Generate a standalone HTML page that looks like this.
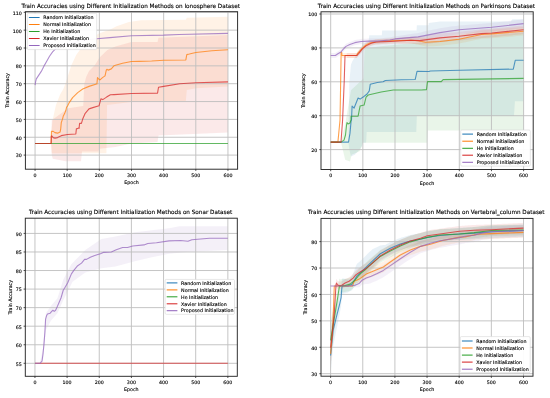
<!DOCTYPE html>
<html><head><meta charset="utf-8"><title>Train Accuracies</title>
<style>html,body{margin:0;padding:0;background:#fff;}svg{display:block;}</style>
</head><body>
<svg width="550" height="398" viewBox="0 0 550 398" font-family="DejaVu Sans, sans-serif" text-rendering="geometricPrecision">
<rect width="550" height="398" fill="#fff"/>
<clipPath id="ctl"><rect x="25.4" y="11.7" width="212.2" height="157.5"/></clipPath>
<g clip-path="url(#ctl)">
<polygon fill="#ff7f0e" fill-opacity="0.1" points="35.05,143.5 51.12,143.5 51.45,130.11 52.73,119.4 55.95,105.12 60.13,94.41 63.34,89.05 65.27,84.06 68.49,73.88 71.38,65.14 76.2,54.96 83.28,45.32 91.31,38.18 99.35,33.18 110.28,29.61 116.58,26.22 128.93,21.94 141.14,20.33 185.83,19.8 186.8,17.66 227.95,16.76 227.95,86.38 195.8,88.16 186.8,89.95 185.83,101.01 131.5,102.09 107.07,105.12 106.42,153.31 51.77,153.31 51.12,143.5 35.05,143.5"/>
<polygon fill="#d62728" fill-opacity="0.1" points="35.05,143.5 51.12,143.5 51.77,120.29 68.16,108.33 83.28,106.01 84.24,84.06 86.17,76.92 89.06,71.03 95.01,64.96 99.35,57.82 107.39,49.96 115.42,46.39 131.5,41.93 157.54,41.93 158.51,37.65 227.95,34.97 227.95,132.43 158.51,135.47 157.54,142.07 131.5,143.5 115.42,147.07 99.35,148.85 98.39,151.53 81.99,151.53 81.02,161.35 65.59,161.35 52.73,158.67 51.77,155.1 51.12,143.5 35.05,143.5"/>
</g>
<g stroke="#bebebe" stroke-width="0.9"><line x1="35.05" y1="11.7" x2="35.05" y2="169.2"/><line x1="67.2" y1="11.7" x2="67.2" y2="169.2"/><line x1="99.35" y1="11.7" x2="99.35" y2="169.2"/><line x1="131.5" y1="11.7" x2="131.5" y2="169.2"/><line x1="163.65" y1="11.7" x2="163.65" y2="169.2"/><line x1="195.8" y1="11.7" x2="195.8" y2="169.2"/><line x1="227.95" y1="11.7" x2="227.95" y2="169.2"/><line x1="25.4" y1="155.1" x2="237.6" y2="155.1"/><line x1="25.4" y1="137.25" x2="237.6" y2="137.25"/><line x1="25.4" y1="119.4" x2="237.6" y2="119.4"/><line x1="25.4" y1="101.55" x2="237.6" y2="101.55"/><line x1="25.4" y1="83.7" x2="237.6" y2="83.7"/><line x1="25.4" y1="65.85" x2="237.6" y2="65.85"/><line x1="25.4" y1="48" x2="237.6" y2="48"/><line x1="25.4" y1="30.15" x2="237.6" y2="30.15"/><line x1="25.4" y1="12.3" x2="237.6" y2="12.3"/></g>
<g clip-path="url(#ctl)">
<polyline fill="none" stroke="#ff7f0e" stroke-width="1.1" stroke-opacity="0.74" stroke-linejoin="round" points="35.05,143.5 51.12,143.5 51.45,131.36 53.21,131.36 54.98,132.61 57.55,133.14 60.13,131.9 60.71,128.86 61.28,122.61 62.57,118.86 63.21,116.37 64.47,113.87 65.72,110.83 66.56,107.26 67.62,105.83 68.9,103.16 72.6,97.62 77.71,92.62 82.7,89.05 89,86.38 96.46,84.06 96.91,84.06 97.49,77.63 98.8,79.06 99.99,79.95 102.5,77.63 105.04,75.85 106.29,70.13 106.91,69.24 108.19,70.13 111.31,68.88 113.91,65.85 116.39,64.96 122.59,63.17 131.4,61.57 138.99,61.39 151.59,61.03 163.97,60.32 185.83,59.96 186.8,54.6 189.37,54.07 195.8,52.46 211.88,50.68 227.95,49.78"/>
<polyline fill="none" stroke="#2ca02c" stroke-width="1.1" stroke-opacity="0.74" stroke-linejoin="round" points="35.05,143.5 227.95,143.5"/>
<polyline fill="none" stroke="#d62728" stroke-width="1.1" stroke-opacity="0.74" stroke-linejoin="round" points="35.05,143.5 51.12,143.5 51.29,136.18 51.77,135.82 53.21,137.61 54.98,138.14 57.55,137.61 61.28,135.64 67.52,134.57 75.82,134.04 76.39,128.86 78.29,128.15 79.1,128.32 79.58,123.33 81.41,123.33 82.7,119.04 85.2,113.33 89,108.87 92.79,107.62 99.03,105.83 100.89,98.87 102.79,99.59 106.58,97.09 110.41,94.77 114.01,94.59 131.5,93.52 157.54,93.16 158.51,87.27 163.65,86.38 179.73,83.7 195.8,82.81 227.95,81.91"/>
<polyline fill="none" stroke="#9467bd" stroke-width="1.1" stroke-opacity="0.74" stroke-linejoin="round" points="35.05,85.13 35.69,81.38 36.34,78.88 38.81,75.13 41.29,71.38 43.79,66.39 47.01,60.67 49.52,56.21 52.6,51.93 55.79,48.71 60.77,46.57 67.2,44.43 76.84,41.75 86.49,39.97 96.78,38.72 109.96,37.65 131.5,35.68 163.65,35.15 179.08,34.43 227.95,33.36"/>
</g>
<rect x="25.4" y="11.7" width="212.2" height="157.5" fill="none" stroke="#262626" stroke-width="0.95"/>
<g stroke="#262626" stroke-width="0.8"><line x1="35.05" y1="169.2" x2="35.05" y2="170.9"/><line x1="67.2" y1="169.2" x2="67.2" y2="170.9"/><line x1="99.35" y1="169.2" x2="99.35" y2="170.9"/><line x1="131.5" y1="169.2" x2="131.5" y2="170.9"/><line x1="163.65" y1="169.2" x2="163.65" y2="170.9"/><line x1="195.8" y1="169.2" x2="195.8" y2="170.9"/><line x1="227.95" y1="169.2" x2="227.95" y2="170.9"/><line x1="23.7" y1="155.1" x2="25.4" y2="155.1"/><line x1="23.7" y1="137.25" x2="25.4" y2="137.25"/><line x1="23.7" y1="119.4" x2="25.4" y2="119.4"/><line x1="23.7" y1="101.55" x2="25.4" y2="101.55"/><line x1="23.7" y1="83.7" x2="25.4" y2="83.7"/><line x1="23.7" y1="65.85" x2="25.4" y2="65.85"/><line x1="23.7" y1="48" x2="25.4" y2="48"/><line x1="23.7" y1="30.15" x2="25.4" y2="30.15"/><line x1="23.7" y1="12.3" x2="25.4" y2="12.3"/></g>
<g font-size="4.75" fill="#000" stroke="#000" stroke-width="0.13"><text x="35.05" y="177.1" text-anchor="middle">0</text><text x="67.2" y="177.1" text-anchor="middle">100</text><text x="99.35" y="177.1" text-anchor="middle">200</text><text x="131.5" y="177.1" text-anchor="middle">300</text><text x="163.65" y="177.1" text-anchor="middle">400</text><text x="195.8" y="177.1" text-anchor="middle">500</text><text x="227.95" y="177.1" text-anchor="middle">600</text><text x="21.8" y="157.45" text-anchor="end">30</text><text x="21.8" y="139.6" text-anchor="end">40</text><text x="21.8" y="121.75" text-anchor="end">50</text><text x="21.8" y="103.9" text-anchor="end">60</text><text x="21.8" y="86.05" text-anchor="end">70</text><text x="21.8" y="68.2" text-anchor="end">80</text><text x="21.8" y="50.35" text-anchor="end">90</text><text x="21.8" y="32.5" text-anchor="end">100</text><text x="21.8" y="14.65" text-anchor="end">110</text><text x="131.5" y="184.3" text-anchor="middle">Epoch</text><text transform="translate(8.9,90.45) rotate(-90)" text-anchor="middle">Train Accuracy</text></g>
<text x="130.8" y="7.7" text-anchor="middle" font-size="5.68" stroke="#000" stroke-width="0.13">Train Accuracies using Different Initialization Methods on Ionosphere Dataset</text>
<rect x="27.3" y="13.3" width="69.4" height="36.3" rx="1.2" fill="#fff" fill-opacity="0.95" stroke="#d6d6d6" stroke-width="0.6"/>
<g font-size="4.75" stroke-width="0.13"><line x1="28.9" y1="17.5" x2="39.6" y2="17.5" stroke="#1f77b4" stroke-width="1.05" stroke-opacity="1"/><text x="43.3" y="19.25" stroke="#000">Random Initialization</text><line x1="28.9" y1="24.5" x2="39.6" y2="24.5" stroke="#ff7f0e" stroke-width="1.05" stroke-opacity="1"/><text x="43.3" y="26.25" stroke="#000">Normal Initialization</text><line x1="28.9" y1="31.5" x2="39.6" y2="31.5" stroke="#2ca02c" stroke-width="1.05" stroke-opacity="1"/><text x="43.3" y="33.25" stroke="#000">He Initialization</text><line x1="28.9" y1="38.5" x2="39.6" y2="38.5" stroke="#d62728" stroke-width="1.05" stroke-opacity="1"/><text x="43.3" y="40.25" stroke="#000">Xavier Initialization</text><line x1="28.9" y1="45.5" x2="39.6" y2="45.5" stroke="#9467bd" stroke-width="1.05" stroke-opacity="1"/><text x="43.3" y="47.25" stroke="#000">Proposed Initialization</text></g>
<clipPath id="ctr"><rect x="321" y="11.8" width="212.2" height="157.7"/></clipPath>
<g clip-path="url(#ctr)">
<polygon fill="#1f77b4" fill-opacity="0.1" points="330.7,142.14 348.38,142.14 349.35,81.8 350.95,64.85 352.24,61.46 357.38,52.98 363.17,43.83 368.64,41.12 369.28,35.36 381.82,35.36 382.14,30.61 416.54,30.61 416.86,25.19 428.44,25.19 428.76,22.98 440.01,21.46 510.74,21.46 512.35,19.25 523.6,19.25 523.6,101.29 514.92,101.29 513.95,116.04 416.86,116.04 416.22,131.97 366.71,131.97 366.06,142.82 362.85,142.82 361.89,146.21 359.63,149.6 354.81,154.69 350.95,156.38 349.35,149.6 348.38,142.14 330.7,142.14"/>
<polygon fill="#ff7f0e" fill-opacity="0.1" points="341.95,52.98 343.56,52.98 346.77,52.98 349.99,52.98 353.2,52.98 356.42,52.98 356.74,52.98 357.29,51.29 359.63,48.54 359.89,48.24 362.4,45.7 362.85,45.3 366.06,42.48 369.28,40.78 369.92,40.44 372.5,39.92 374.91,39.42 375.71,39.36 378.93,39.11 382.14,38.85 385.36,38.6 388.57,38.34 389.86,38.24 391.78,38.19 395,38.12 398.21,37.86 401.43,37.61 404.64,37.35 407.86,37.1 411.07,36.84 414.29,36.89 417.5,36.95 418.15,36.96 420.72,37.35 423.94,37.83 425.54,38.07 427.15,37.89 430.37,37.7 433.58,37.51 436.79,37.33 440.01,37.14 443.23,36.76 446.44,36.39 449.65,36.02 452.87,35.64 456.08,35.27 458.98,34.93 459.3,34.87 462.51,34.19 465.73,33.51 468.94,32.83 472.16,32.15 475.38,31.48 478.59,30.8 481.48,30.19 481.8,30.17 485.02,29.95 488.24,29.74 491.45,29.53 491.77,29.51 494.66,29.28 497.88,29.02 501.1,28.76 504.31,28.51 507.52,28.25 510.74,27.99 513.95,27.74 517.17,27.48 520.38,27.22 523.6,26.97 523.6,35.61 520.38,35.87 517.17,36.12 513.95,36.38 510.74,36.64 507.52,36.9 504.31,37.15 501.1,37.41 497.88,37.67 494.66,37.92 491.77,38.15 491.45,38.17 488.24,38.39 485.02,38.6 481.8,38.81 481.48,38.83 478.59,39.44 475.38,40.12 472.16,40.8 468.94,41.48 465.73,42.15 462.51,42.83 459.3,43.51 458.98,43.58 456.08,43.91 452.87,44.29 449.65,44.66 446.44,45.03 443.23,45.41 440.01,45.78 436.79,45.97 433.58,46.16 430.37,46.35 427.15,46.53 425.54,46.54 423.94,46.12 420.72,45.28 418.15,44.6 417.5,44.52 414.29,44.11 411.07,43.7 407.86,43.6 404.64,43.5 401.43,43.4 398.21,43.3 395,43.2 391.78,43.28 389.86,43.32 388.57,43.43 385.36,43.68 382.14,43.94 378.93,44.19 375.71,44.45 374.91,44.51 372.5,45 369.92,45.53 369.28,45.87 366.06,47.56 362.85,50.39 362.4,50.78 359.89,53.32 359.63,53.63 357.29,56.38 356.74,58.07 356.42,58.07 353.2,58.07 349.99,58.07 346.77,58.07 343.56,58.07 341.95,58.07"/>
<polygon fill="#2ca02c" fill-opacity="0.1" points="330.7,142.14 340.99,142.14 345.17,124.18 350.95,90.28 363.49,78.41 364.46,49.59 367.03,48.24 381.18,46.2 401.43,44.17 419.76,42.81 459.3,38.41 523.6,32.14 523.6,130.45 427.79,130.45 427.15,142.65 362.85,142.65 361.89,146.21 359.63,151.3 351.6,154.69 349.99,161.47 345.17,159.77 343.56,152.99 340.99,142.14 330.7,142.14"/>
<polygon fill="#d62728" fill-opacity="0.1" points="346.77,52.98 349.99,52.98 353.2,52.98 356.42,52.98 356.74,52.98 358.61,51.12 359.63,49.83 362.4,46.37 362.85,46 366.06,43.32 369.28,41.73 371.21,40.78 372.5,40.42 375.71,39.52 376.03,39.42 378.93,39.32 382.14,39.2 385.36,39.08 388.57,38.96 389.86,38.92 391.78,38.81 395,38.63 398.21,38.27 401.43,37.91 404.64,37.56 407.86,37.2 411.07,36.84 414.29,36.79 417.5,36.74 419.76,36.7 420.72,36.52 423.94,35.91 427.15,35.3 430.37,34.87 433.58,34.44 436.79,34.01 440.01,33.58 443.23,33.29 446.44,33 449.65,32.72 452.87,32.43 456.08,32.14 458.98,31.88 459.3,31.85 462.51,31.48 465.73,31.12 468.94,30.76 472.16,30.39 475.38,30.03 478.59,29.67 481.48,29.34 481.8,29.32 485.02,29.11 488.24,28.89 491.45,28.68 491.77,28.66 494.66,28.37 497.88,28.04 501.1,27.72 504.31,27.39 507.52,27.07 510.74,26.74 513.95,26.42 517.17,26.09 520.38,25.77 523.6,25.44 523.6,34.09 520.38,34.41 517.17,34.74 513.95,35.06 510.74,35.39 507.52,35.71 504.31,36.04 501.1,36.36 497.88,36.69 494.66,37.01 491.77,37.31 491.45,37.33 488.24,37.54 485.02,37.75 481.8,37.96 481.48,37.98 478.59,38.31 475.38,38.67 472.16,39.04 468.94,39.4 465.73,39.76 462.51,40.13 459.3,40.49 458.98,40.53 456.08,40.79 452.87,41.07 449.65,41.36 446.44,41.65 443.23,41.93 440.01,42.22 436.79,42.65 433.58,43.08 430.37,43.51 427.15,43.94 423.94,44.2 420.72,44.45 419.76,44.52 417.5,44.31 414.29,44.01 411.07,43.7 407.86,43.71 404.64,43.71 401.43,43.71 398.21,43.71 395,43.71 391.78,43.89 389.86,44 388.57,44.05 385.36,44.17 382.14,44.29 378.93,44.4 376.03,44.51 375.71,44.6 372.5,45.5 371.21,45.87 369.28,46.82 366.06,48.41 362.85,51.08 362.4,51.46 359.63,54.92 358.61,56.21 356.74,58.07 356.42,58.07 353.2,58.07 349.99,58.07 346.77,58.07"/>
<polygon fill="#9467bd" fill-opacity="0.1" points="330.7,52.98 333.91,52.98 335.39,52.98 337.13,51.81 337.9,51.29 340.34,49.81 340.99,49.43 343.56,46.35 344.11,45.7 346,43.83 346.77,43.45 349.8,41.97 349.99,41.9 353.2,40.7 354.81,40.1 356.42,39.8 359.63,39.19 361.11,38.92 362.85,38.84 366.06,38.69 368.64,38.58 369.28,38.58 372.5,38.58 375.71,38.58 377.51,38.58 378.93,38.44 382.14,38.13 385.36,37.82 388.57,37.51 389.86,37.39 391.78,37.01 395,36.37 398.21,35.91 401.43,35.45 404.64,34.99 407.86,34.53 411.07,34.07 414.29,33.61 417.5,33.15 418.15,33.06 420.72,32.42 423.94,31.62 427.15,30.82 430.37,30.19 433.58,29.57 436.79,28.95 440.01,28.32 443.23,27.83 446.44,27.35 449.65,26.86 452.87,26.37 456.08,25.88 458.98,25.44 459.3,25.42 462.51,25.17 465.73,24.92 468.94,24.67 472.16,24.42 475.38,24.17 478.59,23.92 481.8,23.67 485.02,23.42 488.24,23.17 491.45,22.92 491.77,22.9 494.66,22.58 497.88,22.22 501.1,21.86 504.31,21.5 507.52,21.14 510.74,20.78 513.95,20.42 517.17,20.06 520.38,19.7 523.6,19.34 523.6,27.98 520.38,28.34 517.17,28.7 513.95,29.06 510.74,29.42 507.52,29.78 504.31,30.14 501.1,30.5 497.88,30.86 494.66,31.22 491.77,31.54 491.45,31.57 488.24,31.82 485.02,32.07 481.8,32.32 478.59,32.57 475.38,32.81 472.16,33.06 468.94,33.31 465.73,33.56 462.51,33.81 459.3,34.06 458.98,34.09 456.08,34.53 452.87,35.01 449.65,35.5 446.44,35.99 443.23,36.48 440.01,36.97 436.79,37.59 433.58,38.21 430.37,38.84 427.15,39.46 423.94,39.91 420.72,40.35 418.15,40.71 417.5,40.73 414.29,40.83 411.07,40.94 407.86,41.04 404.64,41.15 401.43,41.25 398.21,41.35 395,41.46 391.78,42.09 389.86,42.48 388.57,42.6 385.36,42.91 382.14,43.22 378.93,43.53 377.51,43.66 375.71,43.66 372.5,43.66 369.28,43.66 368.64,43.66 366.06,43.78 362.85,43.92 361.11,44 359.63,44.28 356.42,44.89 354.81,45.19 353.2,45.79 349.99,46.98 349.8,47.05 346.77,48.54 346,48.92 344.11,50.78 343.56,51.44 340.99,54.51 340.34,54.9 337.9,56.38 337.13,56.9 335.39,58.07 333.91,58.07 330.7,58.07"/>
</g>
<g stroke="#bebebe" stroke-width="0.9"><line x1="330.7" y1="11.8" x2="330.7" y2="169.5"/><line x1="362.85" y1="11.8" x2="362.85" y2="169.5"/><line x1="395" y1="11.8" x2="395" y2="169.5"/><line x1="427.15" y1="11.8" x2="427.15" y2="169.5"/><line x1="459.3" y1="11.8" x2="459.3" y2="169.5"/><line x1="491.45" y1="11.8" x2="491.45" y2="169.5"/><line x1="523.6" y1="11.8" x2="523.6" y2="169.5"/><line x1="321" y1="149.6" x2="533.2" y2="149.6"/><line x1="321" y1="115.7" x2="533.2" y2="115.7"/><line x1="321" y1="81.8" x2="533.2" y2="81.8"/><line x1="321" y1="47.9" x2="533.2" y2="47.9"/><line x1="321" y1="14" x2="533.2" y2="14"/></g>
<g clip-path="url(#ctr)">
<polyline fill="none" stroke="#1f77b4" stroke-width="1.1" stroke-opacity="0.74" stroke-linejoin="round" points="330.7,142.14 348.51,142.14 349.99,133.16 351.08,121.12 351.5,119.94 352.08,106.04 354.11,108.07 358.09,98.07 360.09,99.09 363.11,97.06 367.03,94 369.28,90.95 370.24,84.34 377.32,82.48 383.1,81.8 385.36,80.44 401.43,79.77 415.25,79.43 417.02,71.29 429.08,71.46 430.37,70.95 459.94,70.27 513.31,69.09 515.24,60.27 523.6,60.27"/>
<polyline fill="none" stroke="#ff7f0e" stroke-width="1.1" stroke-opacity="0.74" stroke-linejoin="round" points="330.7,142.14 337.9,142.14 340.02,119.94 340.67,81.8 341.15,52.31 341.63,52.31 341.95,55.53 356.74,55.53 357.29,53.83 359.89,50.78 362.4,48.24 366.06,45.02 369.92,42.98 374.91,41.97 389.86,40.78 411.07,40.27 418.15,40.78 425.54,42.31 440.01,41.46 458.98,39.26 481.48,34.51 491.77,33.83 523.6,31.29"/>
<polyline fill="none" stroke="#2ca02c" stroke-width="1.1" stroke-opacity="0.74" stroke-linejoin="round" points="330.7,142.14 340.99,142.14 344.01,140.11 345.49,135.02 346.55,125.02 347,122.48 348,124.01 349.99,122.99 350.99,119.94 351.08,116.21 358.09,116.21 360.09,106.04 364.1,105.02 366.06,97.06 368.19,95.02 381.18,91.97 393.3,89.94 421.36,89.94 426.51,89.6 427.47,81.63 441.3,81.63 443.1,79.6 523.6,78.41"/>
<polyline fill="none" stroke="#d62728" stroke-width="1.1" stroke-opacity="0.74" stroke-linejoin="round" points="330.7,142.14 340.99,142.14 342.6,119.94 344.2,81.8 345.01,55.53 356.74,55.53 358.61,53.66 362.4,48.92 366.06,45.87 371.21,43.32 376.03,41.97 389.86,41.46 411.07,40.27 419.76,40.61 440.01,37.9 458.98,36.2 481.48,33.66 491.77,32.98 523.6,29.76"/>
<polyline fill="none" stroke="#9467bd" stroke-width="1.1" stroke-opacity="0.74" stroke-linejoin="round" points="330.7,55.53 335.39,55.53 337.9,53.83 340.99,51.97 344.11,48.24 346,46.37 349.8,44.51 354.81,42.65 361.11,41.46 368.64,41.12 377.51,41.12 389.86,39.93 395,38.92 418.15,36.88 440.01,32.64 458.98,29.76 491.77,27.22 523.6,23.66"/>
</g>
<rect x="321" y="11.8" width="212.2" height="157.7" fill="none" stroke="#262626" stroke-width="0.95"/>
<g stroke="#262626" stroke-width="0.8"><line x1="330.7" y1="169.5" x2="330.7" y2="171.2"/><line x1="362.85" y1="169.5" x2="362.85" y2="171.2"/><line x1="395" y1="169.5" x2="395" y2="171.2"/><line x1="427.15" y1="169.5" x2="427.15" y2="171.2"/><line x1="459.3" y1="169.5" x2="459.3" y2="171.2"/><line x1="491.45" y1="169.5" x2="491.45" y2="171.2"/><line x1="523.6" y1="169.5" x2="523.6" y2="171.2"/><line x1="319.3" y1="149.6" x2="321" y2="149.6"/><line x1="319.3" y1="115.7" x2="321" y2="115.7"/><line x1="319.3" y1="81.8" x2="321" y2="81.8"/><line x1="319.3" y1="47.9" x2="321" y2="47.9"/><line x1="319.3" y1="14" x2="321" y2="14"/></g>
<g font-size="4.75" fill="#000" stroke="#000" stroke-width="0.13"><text x="330.7" y="177.4" text-anchor="middle">0</text><text x="362.85" y="177.4" text-anchor="middle">100</text><text x="395" y="177.4" text-anchor="middle">200</text><text x="427.15" y="177.4" text-anchor="middle">300</text><text x="459.3" y="177.4" text-anchor="middle">400</text><text x="491.45" y="177.4" text-anchor="middle">500</text><text x="523.6" y="177.4" text-anchor="middle">600</text><text x="317.4" y="151.95" text-anchor="end">20</text><text x="317.4" y="118.05" text-anchor="end">40</text><text x="317.4" y="84.15" text-anchor="end">60</text><text x="317.4" y="50.25" text-anchor="end">80</text><text x="317.4" y="16.35" text-anchor="end">100</text><text x="427.1" y="184.6" text-anchor="middle">Epoch</text><text transform="translate(305.1,90.65) rotate(-90)" text-anchor="middle">Train Accuracy</text></g>
<text x="426.4" y="7.8" text-anchor="middle" font-size="5.68" stroke="#000" stroke-width="0.13">Train Accuracies using Different Initialization Methods on Parkinsons Dataset</text>
<rect x="460.7" y="130" width="69.6" height="36.1" rx="1.2" fill="#fff" fill-opacity="0.95" stroke="#d6d6d6" stroke-width="0.6"/>
<g font-size="4.75" stroke-width="0.13"><line x1="462.3" y1="134.1" x2="473" y2="134.1" stroke="#1f77b4" stroke-width="1.05" stroke-opacity="1"/><text x="476.7" y="135.85" stroke="#000">Random Initialization</text><line x1="462.3" y1="141.2" x2="473" y2="141.2" stroke="#ff7f0e" stroke-width="1.05" stroke-opacity="1"/><text x="476.7" y="142.95" stroke="#000">Normal Initialization</text><line x1="462.3" y1="148.3" x2="473" y2="148.3" stroke="#2ca02c" stroke-width="1.05" stroke-opacity="1"/><text x="476.7" y="150.05" stroke="#000">He Initialization</text><line x1="462.3" y1="155.2" x2="473" y2="155.2" stroke="#d62728" stroke-width="1.05" stroke-opacity="1"/><text x="476.7" y="156.95" stroke="#000">Xavier Initialization</text><line x1="462.3" y1="162.3" x2="473" y2="162.3" stroke="#9467bd" stroke-width="1.05" stroke-opacity="1"/><text x="476.7" y="164.05" stroke="#000">Proposed Initialization</text></g>
<clipPath id="cbl"><rect x="25.3" y="218.2" width="212" height="158.1"/></clipPath>
<g clip-path="url(#cbl)">
<polygon fill="#9467bd" fill-opacity="0.1" points="34.95,363.3 39.77,363.3 42.99,348.46 45.88,313.2 51.03,305.78 57.45,298.36 63.24,279.8 71.28,264.22 85.3,250.11 101.4,238.98 115.49,236.38 134.94,232.3 169.02,228.22 179.62,226.36 227.85,226.36 227.85,250.11 186.06,251.97 169.02,253.83 150.69,257.54 134.94,261.25 115.49,266.44 101.4,268.3 85.3,272.38 72.57,281.66 63.24,300.21 57.45,313.2 51.03,320.62 45.88,329.9 42.99,359.59 39.77,363.3 34.95,363.3"/>
</g>
<g stroke="#bebebe" stroke-width="0.9"><line x1="34.95" y1="218.2" x2="34.95" y2="376.3"/><line x1="67.1" y1="218.2" x2="67.1" y2="376.3"/><line x1="99.25" y1="218.2" x2="99.25" y2="376.3"/><line x1="131.4" y1="218.2" x2="131.4" y2="376.3"/><line x1="163.55" y1="218.2" x2="163.55" y2="376.3"/><line x1="195.7" y1="218.2" x2="195.7" y2="376.3"/><line x1="227.85" y1="218.2" x2="227.85" y2="376.3"/><line x1="25.3" y1="363.3" x2="237.3" y2="363.3"/><line x1="25.3" y1="344.75" x2="237.3" y2="344.75"/><line x1="25.3" y1="326.19" x2="237.3" y2="326.19"/><line x1="25.3" y1="307.63" x2="237.3" y2="307.63"/><line x1="25.3" y1="289.08" x2="237.3" y2="289.08"/><line x1="25.3" y1="270.53" x2="237.3" y2="270.53"/><line x1="25.3" y1="251.97" x2="237.3" y2="251.97"/><line x1="25.3" y1="233.42" x2="237.3" y2="233.42"/></g>
<g clip-path="url(#cbl)">
<polyline fill="none" stroke="#d62728" stroke-width="1.1" stroke-opacity="0.74" stroke-linejoin="round" points="34.95,363.3 227.85,363.3"/>
<polyline fill="none" stroke="#9467bd" stroke-width="1.1" stroke-opacity="0.74" stroke-linejoin="round" points="34.95,363.3 39.77,363.3 40.42,362.93 42.02,361.07 42.99,354.02 43.95,344.37 44.92,331.76 45.59,319.14 46.52,315.8 47.49,313.94 50.19,313.2 51.67,311.35 52.89,310.23 54.24,311.35 55.59,310.23 57.49,306.15 59.06,302.44 60.99,297.99 63.31,290.01 64.53,288.34 67.71,282.77 71.41,273.86 74.01,270.15 77.71,265.7 81.5,263.1 84.59,259.39 86.49,259.39 90.31,257.17 94.11,255.68 97.8,254.57 100.41,253.83 103.75,252.34 111.31,251.97 116.29,249.74 122.59,247.52 127.54,247.52 132.69,246.03 143.94,244.92 147.8,243.43 156.48,242.69 169.02,240.84 180.59,240.47 187.98,241.21 191.84,239.72 209.52,238.24 227.85,238.24"/>
</g>
<rect x="25.3" y="218.2" width="212" height="158.1" fill="none" stroke="#262626" stroke-width="0.95"/>
<g stroke="#262626" stroke-width="0.8"><line x1="34.95" y1="376.3" x2="34.95" y2="378"/><line x1="67.1" y1="376.3" x2="67.1" y2="378"/><line x1="99.25" y1="376.3" x2="99.25" y2="378"/><line x1="131.4" y1="376.3" x2="131.4" y2="378"/><line x1="163.55" y1="376.3" x2="163.55" y2="378"/><line x1="195.7" y1="376.3" x2="195.7" y2="378"/><line x1="227.85" y1="376.3" x2="227.85" y2="378"/><line x1="23.6" y1="363.3" x2="25.3" y2="363.3"/><line x1="23.6" y1="344.75" x2="25.3" y2="344.75"/><line x1="23.6" y1="326.19" x2="25.3" y2="326.19"/><line x1="23.6" y1="307.63" x2="25.3" y2="307.63"/><line x1="23.6" y1="289.08" x2="25.3" y2="289.08"/><line x1="23.6" y1="270.53" x2="25.3" y2="270.53"/><line x1="23.6" y1="251.97" x2="25.3" y2="251.97"/><line x1="23.6" y1="233.42" x2="25.3" y2="233.42"/></g>
<g font-size="4.75" fill="#000" stroke="#000" stroke-width="0.13"><text x="34.95" y="384.2" text-anchor="middle">0</text><text x="67.1" y="384.2" text-anchor="middle">100</text><text x="99.25" y="384.2" text-anchor="middle">200</text><text x="131.4" y="384.2" text-anchor="middle">300</text><text x="163.55" y="384.2" text-anchor="middle">400</text><text x="195.7" y="384.2" text-anchor="middle">500</text><text x="227.85" y="384.2" text-anchor="middle">600</text><text x="21.7" y="365.65" text-anchor="end">55</text><text x="21.7" y="347.1" text-anchor="end">60</text><text x="21.7" y="328.54" text-anchor="end">65</text><text x="21.7" y="309.99" text-anchor="end">70</text><text x="21.7" y="291.43" text-anchor="end">75</text><text x="21.7" y="272.88" text-anchor="end">80</text><text x="21.7" y="254.32" text-anchor="end">85</text><text x="21.7" y="235.77" text-anchor="end">90</text><text x="131.3" y="391.4" text-anchor="middle">Epoch</text><text transform="translate(11.7,297.25) rotate(-90)" text-anchor="middle">Train Accuracy</text></g>
<text x="130.6" y="214.2" text-anchor="middle" font-size="5.68" stroke="#000" stroke-width="0.13">Train Accuracies using Different Initialization Methods on Sonar Dataset</text>
<rect x="165.1" y="279.4" width="69.4" height="34.9" rx="1.2" fill="#fff" fill-opacity="0.95" stroke="#d6d6d6" stroke-width="0.6"/>
<g font-size="4.75" stroke-width="0.13"><line x1="166.7" y1="282.9" x2="177.4" y2="282.9" stroke="#1f77b4" stroke-width="1.05" stroke-opacity="1"/><text x="181.1" y="284.65" stroke="#000">Random Initialization</text><line x1="166.7" y1="289.9" x2="177.4" y2="289.9" stroke="#ff7f0e" stroke-width="1.05" stroke-opacity="1"/><text x="181.1" y="291.65" stroke="#000">Normal Initialization</text><line x1="166.7" y1="296.8" x2="177.4" y2="296.8" stroke="#2ca02c" stroke-width="1.05" stroke-opacity="1"/><text x="181.1" y="298.55" stroke="#000">He Initialization</text><line x1="166.7" y1="303.8" x2="177.4" y2="303.8" stroke="#d62728" stroke-width="1.05" stroke-opacity="1"/><text x="181.1" y="305.55" stroke="#000">Xavier Initialization</text><line x1="166.7" y1="310.7" x2="177.4" y2="310.7" stroke="#9467bd" stroke-width="1.05" stroke-opacity="1"/><text x="181.1" y="312.45" stroke="#000">Proposed Initialization</text></g>
<clipPath id="cbr"><rect x="321" y="218.4" width="212" height="157.8"/></clipPath>
<g clip-path="url(#cbr)">
<polygon fill="#1f77b4" fill-opacity="0.1" points="330.6,336.98 332.21,322.4 333.11,314.23 333.81,312.02 335.42,306.98 336.8,302.65 337.03,301.97 338.64,297.12 339.41,294.79 340.25,291.94 341.11,288.99 341.85,280.06 341.88,279.65 342.5,278.21 343.46,278.43 345.07,278.8 346.68,279.17 347.96,279.47 348.28,279.39 349.89,279.04 351.5,276.87 352.08,276.08 353.11,273.44 354.71,269.32 355.1,268.33 356.32,265.12 357.09,263.79 357.93,263.06 359.54,261.66 360.11,261.15 361.14,260.15 362.75,258.59 364.2,257.19 364.36,257.03 365.97,255.44 367.57,253.86 368.22,253.22 369.18,252.31 370.79,250.79 372.4,249.26 374,248.48 375.61,247.71 377.22,246.93 378.83,246.15 380.3,245.44 380.43,245.43 382.04,245.26 383.65,245.09 385.25,244.93 386.86,244.04 388.47,243.15 390.08,242.25 390.3,242.13 391.69,241.55 393.29,240.87 394.9,240.2 396.51,239.52 398.12,238.85 399.72,238.17 400.37,237.9 401.33,237.62 402.94,237.15 404.55,236.68 406.15,236.21 407.76,235.74 409.37,235.28 410.33,235 410.98,234.88 412.58,234.59 414.19,234.29 415.8,234 417.41,233.71 419.01,233.41 420.49,233.15 420.62,233.11 422.23,232.68 423.84,232.25 425.44,231.81 427.05,231.38 427.37,231.3 428.66,231.11 430.27,230.87 431.87,230.63 433.48,230.4 435.09,230.16 436.7,229.92 438.3,229.68 439.91,229.45 441.52,229.32 443.12,229.19 444.73,229.05 446.34,228.92 447.95,228.79 449.56,228.66 451.16,228.53 452.77,228.4 454.38,228.27 455.99,228.14 457.59,228.01 459.2,227.88 459.39,227.86 460.81,227.78 462.42,227.7 464.02,227.61 465.63,227.52 467.24,227.44 468.85,227.35 470.45,227.26 472.06,227.17 473.67,227.09 473.99,227.07 475.28,226.97 476.88,226.85 478.49,226.73 480.1,226.6 481.71,226.48 483.31,226.36 484.92,226.24 486.53,226.11 488.13,225.99 489.74,225.87 491.35,225.75 492.96,225.68 494.57,225.62 496.17,225.55 497.78,225.48 499.39,225.42 501,225.35 502.6,225.29 504.21,225.22 505.82,225.15 507.43,225.09 509.03,225.02 510.64,224.96 512.25,224.89 513.86,224.82 515.46,224.76 517.07,224.69 518.68,224.63 520.29,224.56 521.89,224.49 523.5,224.43 523.5,236.58 521.89,236.65 520.29,236.71 518.68,236.78 517.07,236.84 515.46,236.91 513.86,236.98 512.25,237.04 510.64,237.11 509.03,237.17 507.43,237.24 505.82,237.31 504.21,237.37 502.6,237.44 501,237.5 499.39,237.57 497.78,237.64 496.17,237.7 494.57,237.77 492.96,237.84 491.35,237.9 489.74,238.02 488.13,238.15 486.53,238.27 484.92,238.39 483.31,238.51 481.71,238.64 480.1,238.76 478.49,238.88 476.88,239 475.28,239.12 473.99,239.22 473.67,239.24 472.06,239.33 470.45,239.41 468.85,239.5 467.24,239.59 465.63,239.68 464.02,239.76 462.42,239.85 460.81,239.94 459.39,240.01 459.2,240.03 457.59,240.16 455.99,240.29 454.38,240.42 452.77,240.55 451.16,240.68 449.56,240.82 447.95,240.95 446.34,241.08 444.73,241.21 443.12,241.34 441.52,241.47 439.91,241.6 438.3,241.84 436.7,242.07 435.09,242.31 433.48,242.55 431.87,242.79 430.27,243.02 428.66,243.26 427.37,243.45 427.05,243.54 425.44,243.97 423.84,244.4 422.23,244.83 420.62,245.26 420.49,245.3 419.01,245.57 417.41,245.86 415.8,246.15 414.19,246.45 412.58,246.74 410.98,247.03 410.33,247.15 409.37,247.43 407.76,247.9 406.15,248.37 404.55,248.84 402.94,249.3 401.33,249.77 400.37,250.05 399.72,250.32 398.12,251 396.51,251.68 394.9,252.35 393.29,253.03 391.69,253.7 390.3,254.28 390.08,254.41 388.47,255.3 386.86,256.19 385.25,257.08 383.65,257.97 382.04,258.87 380.43,259.76 380.3,259.83 378.83,261.21 377.22,262.72 375.61,264.22 374,265.72 372.4,267.23 370.79,268.75 369.18,270.28 368.22,271.19 367.57,271.82 365.97,273.41 364.36,274.99 364.2,275.15 362.75,276.56 361.14,278.12 360.11,279.12 359.54,279.62 357.93,281.03 357.09,281.76 356.32,283.09 355.1,285.19 354.71,285.83 353.11,288.5 352.08,290.21 351.5,290.47 349.89,291.2 348.28,292.29 347.96,292.51 346.68,292.8 345.07,293.17 343.46,293.54 342.5,293.76 341.88,295.49 341.85,295.92 341.11,306.23 340.25,310.81 339.41,315.23 338.64,319.01 337.03,326.88 336.8,327.98 335.42,334.91 333.81,342.96 333.11,346.51 332.21,356.37 330.6,373.96"/>
<polygon fill="#ff7f0e" fill-opacity="0.1" points="330.6,335.39 332.21,324.11 332.59,321.41 333.59,300.81 333.81,295.83 334.3,284.41 335.42,284.44 337.03,284.48 338.64,284.53 340.25,284.58 341.85,284.62 343.46,284.67 345.07,284.72 346.68,284.76 348.28,284.81 349.89,284.85 351.5,284.9 352.59,284.88 353.11,282.89 353.59,281.03 354.71,279.19 355.1,278.56 356.32,277.62 356.58,277.43 357.93,276.3 359.08,275.34 359.54,274.84 361.14,273.05 362.11,271.98 362.75,271.26 364.36,270.12 365.97,268.97 366.19,268.81 367.57,268.23 369.18,267.55 370.79,266.88 371.21,266.7 372.4,266.23 374,265.59 375.61,264.96 377.22,264.32 378.83,263.63 380.43,262.93 382.04,262.24 383.33,261.68 383.65,261.45 385.25,260.29 386.86,259.13 388.47,257.98 390.08,256.82 390.3,256.66 391.69,255.72 393.29,254.62 394.9,253.52 396.51,252.42 398.12,251.33 399.72,250.23 400.37,249.79 401.33,249.3 402.94,248.49 404.55,247.69 406.15,246.88 407.76,246.07 409.37,245.26 410.33,244.77 410.98,244.54 412.58,243.95 414.19,243.37 415.8,242.78 417.41,242.2 419.01,241.61 420.49,241.07 420.62,241.04 422.23,240.7 423.84,240.36 425.44,240.02 427.05,239.69 428.66,239.35 430.27,239.01 430.49,238.96 431.87,238.54 433.48,238.05 435.09,237.57 436.7,237.08 438.3,236.59 439.91,236.11 441.52,235.62 442.71,235.26 443.12,235.17 444.73,234.84 446.34,234.51 447.95,234.18 449.56,233.85 451.16,233.52 452.77,233.19 454.38,232.86 455.99,232.53 457.59,232.2 459.2,231.86 459.39,231.82 460.81,231.76 462.42,231.68 464.02,231.61 464.99,231.56 465.63,231.42 467.24,231.09 468.85,230.75 470.45,230.41 472.06,230.07 473.67,229.73 475.28,229.39 476.88,229.05 477.53,228.92 478.49,228.88 480.1,228.82 481.71,228.76 483.31,228.7 484.92,228.64 486.53,228.57 488.13,228.51 489.74,228.45 491.35,228.39 492.96,228.32 494.57,228.26 496.17,228.19 497.78,228.13 499.39,228.06 501,227.99 502.6,227.93 504.21,227.86 505.82,227.8 507.43,227.73 509.03,227.66 510.64,227.6 512.25,227.53 513.86,227.47 515.46,227.4 517.07,227.33 518.68,227.27 520.29,227.2 521.89,227.14 523.5,227.07 523.5,237.64 521.89,237.7 520.29,237.77 518.68,237.84 517.07,237.9 515.46,237.97 513.86,238.03 512.25,238.1 510.64,238.17 509.03,238.23 507.43,238.3 505.82,238.36 504.21,238.43 502.6,238.5 501,238.56 499.39,238.63 497.78,238.69 496.17,238.76 494.57,238.83 492.96,238.89 491.35,238.96 489.74,239.02 488.13,239.08 486.53,239.14 484.92,239.2 483.31,239.27 481.71,239.33 480.1,239.39 478.49,239.45 477.53,239.49 476.88,239.62 475.28,239.96 473.67,240.3 472.06,240.64 470.45,240.98 468.85,241.32 467.24,241.65 465.63,241.99 464.99,242.13 464.02,242.17 462.42,242.25 460.81,242.33 459.39,242.39 459.2,242.43 457.59,242.76 455.99,243.09 454.38,243.42 452.77,243.76 451.16,244.09 449.56,244.42 447.95,244.75 446.34,245.08 444.73,245.41 443.12,245.74 442.71,245.83 441.52,246.19 439.91,246.67 438.3,247.16 436.7,247.65 435.09,248.13 433.48,248.62 431.87,249.11 430.49,249.53 430.27,249.57 428.66,249.91 427.05,250.25 425.44,250.59 423.84,250.93 422.23,251.27 420.62,251.61 420.49,251.64 419.01,252.18 417.41,252.76 415.8,253.35 414.19,253.93 412.58,254.52 410.98,255.1 410.33,255.34 409.37,255.82 407.76,256.63 406.15,257.44 404.55,258.25 402.94,259.06 401.33,259.87 400.37,260.36 399.72,260.8 398.12,261.89 396.51,262.99 394.9,264.09 393.29,265.19 391.69,266.28 390.3,267.23 390.08,267.39 388.47,268.55 386.86,269.7 385.25,270.86 383.65,272.02 383.33,272.25 382.04,272.8 380.43,273.5 378.83,274.19 377.22,274.89 375.61,275.52 374,276.16 372.4,276.8 371.21,277.27 370.79,277.44 369.18,278.12 367.57,278.8 366.19,279.38 365.97,279.54 364.36,280.68 362.75,281.83 362.11,282.02 361.14,282.3 359.54,282.76 359.08,282.89 357.93,282.91 356.58,282.92 356.32,282.91 355.1,282.84 354.71,283.16 353.59,284.07 353.11,285.53 352.59,287.1 351.5,287.07 349.89,287.12 348.28,287.16 346.68,287.21 345.07,287.26 343.46,287.3 341.85,287.35 340.25,287.39 338.64,287.44 337.03,287.49 335.42,287.53 334.3,287.57 333.81,302.08 333.59,309.21 332.59,339.33 332.21,345.73 330.6,372.38"/>
<polygon fill="#2ca02c" fill-opacity="0.1" points="330.6,321.92 332.21,314.08 333.11,309.68 333.81,306.38 335.42,298.88 335.62,297.98 337.03,290.97 338.09,285.71 338.64,282.77 339.41,278.61 340.25,279.53 341.85,279.31 343.46,279.1 345.07,278.89 346.68,278.48 348.28,278.06 349.89,277.65 350.08,277.6 351.5,276.49 353.11,275.24 354.71,273.98 355.1,273.68 356.32,272.06 357.93,269.95 358.09,269.73 359.54,268.23 361.11,266.59 361.14,266.56 362.75,265.32 364.36,264.09 365.19,263.44 365.97,262.68 367.57,261.1 369.18,259.51 370.79,258.15 372.4,256.78 374,255.42 375.61,254.06 377.22,252.7 378.83,251.33 380.3,250.08 380.43,250.01 382.04,249.17 383.65,248.34 385.25,247.5 386.86,246.66 388.47,245.82 390.08,244.98 390.3,244.87 391.69,244.19 393.29,243.4 394.9,242.61 396.51,241.82 398.12,241.03 399.72,240.24 400.37,239.92 401.33,239.52 402.94,238.85 404.55,238.18 406.15,237.51 407.76,236.84 409.37,236.17 410.33,235.76 410.98,235.59 412.58,235.14 414.19,234.69 415.8,234.24 417.41,233.79 419.01,233.34 420.49,232.93 420.62,232.9 422.23,232.54 423.84,232.19 425.44,231.83 427.05,231.47 427.37,231.4 428.66,231.16 430.27,230.87 431.87,230.57 433.48,230.28 435.09,229.99 436.7,229.69 438.3,229.4 439.91,229.11 441.52,229.03 443.12,228.96 444.73,228.88 446.34,228.81 447.95,228.73 449.56,228.65 451.16,228.58 452.77,228.5 454.38,228.43 455.99,228.35 457.59,228.28 459.2,228.2 459.39,228.19 460.81,228.07 462.42,227.94 464.02,227.81 465.63,227.67 467.24,227.54 468.85,227.4 470.45,227.27 472.06,227.14 473.67,227 473.99,226.98 475.28,226.83 476.88,226.64 478.49,226.46 480.1,226.28 481.71,226.09 483.31,225.91 484.92,225.72 486.53,225.54 488.13,225.36 489.74,225.17 491.35,224.99 492.96,224.97 494.57,224.96 496.17,224.94 497.78,224.93 499.39,224.91 501,224.9 502.6,224.88 504.21,224.87 505.82,224.85 507.43,224.84 509.03,224.82 510.64,224.81 512.25,224.8 513.86,224.78 515.46,224.77 517.07,224.75 518.68,224.74 520.29,224.72 521.89,224.71 523.5,224.69 523.5,235.26 521.89,235.3 520.29,235.34 518.68,235.37 517.07,235.41 515.46,235.45 513.86,235.49 512.25,235.53 510.64,235.56 509.03,235.6 507.43,235.64 505.82,235.68 504.21,235.72 502.6,235.75 501,235.79 499.39,235.83 497.78,235.87 496.17,235.91 494.57,235.94 492.96,235.98 491.35,236.02 489.74,236.23 488.13,236.43 486.53,236.64 484.92,236.85 483.31,237.06 481.71,237.26 480.1,237.47 478.49,237.68 476.88,237.88 475.28,238.09 473.99,238.26 473.67,238.29 472.06,238.45 470.45,238.6 468.85,238.76 467.24,238.92 465.63,239.07 464.02,239.23 462.42,239.39 460.81,239.55 459.39,239.68 459.2,239.7 457.59,239.79 455.99,239.89 454.38,239.99 452.77,240.09 451.16,240.19 449.56,240.29 447.95,240.39 446.34,240.49 444.73,240.59 443.12,240.68 441.52,240.78 439.91,240.88 438.3,241.2 436.7,241.51 435.09,241.83 433.48,242.15 431.87,242.46 430.27,242.78 428.66,243.1 427.37,243.35 427.05,243.43 425.44,243.81 423.84,244.19 422.23,244.57 420.62,244.95 420.49,244.98 419.01,245.42 417.41,245.89 415.8,246.36 414.19,246.83 412.58,247.3 410.98,247.78 410.33,247.96 409.37,248.38 407.76,249.07 406.15,249.77 404.55,250.46 402.94,251.15 401.33,251.85 400.37,252.26 399.72,252.59 398.12,253.4 396.51,254.22 394.9,255.03 393.29,255.84 391.69,256.66 390.3,257.36 390.08,257.48 388.47,258.34 386.86,259.2 385.25,260.06 383.65,260.92 382.04,261.78 380.43,262.64 380.3,262.71 378.83,263.99 377.22,265.37 375.61,266.76 374,268.14 372.4,269.53 370.79,270.92 369.18,272.3 367.57,273.91 365.97,275.52 365.19,276.29 364.36,276.95 362.75,278.21 361.14,279.47 361.11,279.49 359.54,281.16 358.09,282.69 357.93,282.9 356.32,285.04 355.1,286.67 354.71,286.98 353.11,288.26 351.5,289.54 350.08,290.67 349.89,290.72 348.28,291.16 346.68,291.59 345.07,292.03 343.46,292.26 341.85,292.5 340.25,292.74 339.41,293.89 338.64,299.94 338.09,304.23 337.03,312.1 335.62,322.6 335.42,323.98 333.81,335.45 333.11,340.49 332.21,347.1 330.6,358.9"/>
<polygon fill="#d62728" fill-opacity="0.1" points="330.6,329.31 331.89,321.45 332.21,319.28 333.17,312.79 333.81,307.46 334.3,303.46 335.42,288.02 335.62,285.37 336.07,279.63 336.52,279.12 337.03,279.99 337.61,280.97 338.64,281.37 338.96,281.49 340.25,281.38 341.85,281.23 343.46,280.18 345.07,279.14 345.1,279.12 346.68,278.39 348.28,277.64 349.09,277.27 349.89,276.63 351.5,275.2 353.11,273.77 354.71,271.75 356.09,270.02 356.32,269.85 357.93,268.63 359.54,267.41 360.11,266.97 361.14,266.28 362.75,265.19 364.36,264.27 365.19,263.79 365.97,263.18 367.57,261.91 369.18,260.64 370.21,259.83 370.79,259.3 372.4,257.83 374,256.35 375.61,254.88 377.22,253.41 378.83,251.94 380.3,250.58 380.43,250.51 382.04,249.57 383.65,248.64 385.25,247.7 386.86,246.77 388.47,245.84 390.08,244.9 390.3,244.77 391.69,244.08 393.29,243.28 394.9,242.48 396.51,241.68 398.12,240.87 399.72,240.07 400.37,239.75 401.33,239.37 402.94,238.73 404.55,238.09 406.15,237.45 407.76,236.81 409.37,236.17 410.33,235.79 410.98,235.6 412.58,235.14 414.19,234.68 415.8,234.22 417.41,233.76 419.01,233.3 420.49,232.88 420.62,232.84 422.23,232.28 423.84,231.73 425.44,231.17 427.05,230.61 427.37,230.5 428.66,230.31 430.27,230.08 431.87,229.84 433.48,229.6 435.09,229.37 436.7,229.13 438.3,228.89 439.91,228.65 441.52,228.44 443.12,228.22 444.73,228 446.34,227.78 447.95,227.56 449.56,227.35 451.16,227.13 452.77,226.91 454.38,226.69 455.99,226.47 457.59,226.26 459.2,226.04 459.39,226.01 460.81,225.91 462.42,225.79 464.02,225.68 465.63,225.56 467.24,225.44 468.85,225.33 470.45,225.21 472.06,225.1 473.67,224.98 473.99,224.96 475.28,224.92 476.88,224.87 478.49,224.82 480.1,224.77 481.71,224.72 483.31,224.67 484.92,224.62 486.53,224.57 488.13,224.52 489.74,224.48 491.35,224.43 492.96,224.35 494.57,224.27 496.17,224.19 497.78,224.11 499.39,224.03 501,223.95 502.6,223.87 504.21,223.79 505.82,223.71 507.43,223.63 509.03,223.56 510.64,223.48 512.25,223.4 513.86,223.32 515.46,223.24 517.07,223.16 518.68,223.08 520.29,223 521.89,222.92 523.5,222.84 523.5,233.41 521.89,233.49 520.29,233.57 518.68,233.65 517.07,233.73 515.46,233.81 513.86,233.89 512.25,233.96 510.64,234.04 509.03,234.12 507.43,234.2 505.82,234.28 504.21,234.36 502.6,234.44 501,234.52 499.39,234.6 497.78,234.68 496.17,234.76 494.57,234.84 492.96,234.92 491.35,235 489.74,235.04 488.13,235.09 486.53,235.14 484.92,235.19 483.31,235.24 481.71,235.29 480.1,235.34 478.49,235.39 476.88,235.44 475.28,235.48 473.99,235.52 473.67,235.55 472.06,235.66 470.45,235.78 468.85,235.9 467.24,236.01 465.63,236.13 464.02,236.25 462.42,236.36 460.81,236.48 459.39,236.58 459.2,236.61 457.59,236.82 455.99,237.04 454.38,237.26 452.77,237.48 451.16,237.7 449.56,237.91 447.95,238.13 446.34,238.35 444.73,238.57 443.12,238.79 441.52,239 439.91,239.22 438.3,239.46 436.7,239.7 435.09,239.93 433.48,240.17 431.87,240.41 430.27,240.64 428.66,240.88 427.37,241.07 427.05,241.18 425.44,241.74 423.84,242.29 422.23,242.85 420.62,243.4 420.49,243.45 419.01,243.87 417.41,244.33 415.8,244.79 414.19,245.25 412.58,245.71 410.98,246.17 410.33,246.36 409.37,246.74 407.76,247.38 406.15,248.02 404.55,248.66 402.94,249.3 401.33,249.94 400.37,250.32 399.72,250.64 398.12,251.44 396.51,252.24 394.9,253.05 393.29,253.85 391.69,254.65 390.3,255.34 390.08,255.47 388.47,256.4 386.86,257.34 385.25,258.27 383.65,259.21 382.04,260.14 380.43,261.08 380.3,261.15 378.83,262.51 377.22,263.98 375.61,265.45 374,266.92 372.4,268.4 370.79,269.87 370.21,270.4 369.18,271.21 367.57,272.48 365.97,273.75 365.19,274.36 364.36,274.84 362.75,275.76 361.14,276.51 360.11,277 359.54,277.32 357.93,278.21 356.32,279.1 356.09,279.23 354.71,280.67 353.11,282.35 351.5,283.46 349.89,284.56 349.09,285.19 348.28,285.57 346.68,286.31 345.1,287.04 345.07,287.06 343.46,288.11 341.85,289.16 340.25,289.3 338.96,289.42 338.64,289.29 337.61,288.89 337.03,287.91 336.52,287.04 336.07,289.17 335.62,297.17 335.42,300.79 334.3,321.88 333.81,328.3 333.17,336.86 332.21,348.2 331.89,351.98 330.6,366.3"/>
<polygon fill="#9467bd" fill-opacity="0.1" points="330.6,285.99 332.21,285.99 333.81,285.99 335.42,285.99 337.03,285.99 338.64,285.99 340.25,285.99 341.85,285.99 343.46,285.99 345.07,285.99 346.68,285.99 348.28,285.99 349.89,285.99 350.08,285.92 351.5,285.23 353.11,284.45 354.71,283.67 355.1,283.48 356.32,282.59 357.93,281.43 359.08,280.69 359.54,280.08 361.14,277.87 362.11,276.55 362.75,276.07 364.36,274.86 365.97,273.65 366.19,273.48 367.57,272.64 369.18,271.67 370.79,271.08 371.21,270.93 372.4,270.4 374,269.7 375.61,268.99 377.22,268.28 378.83,267.45 380.43,266.62 382.04,265.78 383.33,265.11 383.65,264.9 385.25,263.81 386.86,262.73 388.47,261.64 389.98,260.62 390.08,260.56 391.69,259.45 393.29,258.35 394.9,257.24 396.51,256.14 398.12,255.03 399.72,253.93 400.37,253.49 401.33,252.85 402.94,251.78 404.55,250.72 406.15,249.65 407.76,248.59 409.37,247.52 410.33,246.88 410.98,246.52 412.58,245.6 414.19,244.68 415.8,243.76 417.41,242.84 419.01,241.92 420.49,241.07 420.62,241.03 422.23,240.52 423.84,240.01 425.44,239.5 427.05,238.99 428.66,238.48 430.27,237.97 430.49,237.9 431.87,237.55 433.48,237.15 435.09,236.74 436.7,236.33 438.3,235.93 439.91,235.52 441.52,235.26 443.12,235 444.73,234.74 446.34,234.48 447.95,234.22 449.56,233.95 451.16,233.69 452.77,233.43 454.38,233.17 455.99,232.91 457.59,232.65 459.2,232.38 459.39,232.35 460.81,232.02 462.42,231.64 464.02,231.26 464.99,231.03 465.63,230.96 467.24,230.77 468.85,230.58 470.45,230.39 472.06,230.2 473.67,230.01 473.99,229.98 475.28,229.62 476.88,229.18 478.49,228.74 480.1,228.3 481.71,227.86 483.31,227.64 484.92,227.42 486.53,227.2 488.13,226.98 489.74,226.76 491.35,226.54 492.96,226.47 494.57,226.41 496.17,226.34 497.78,226.28 499.39,226.21 501,226.14 502.6,226.08 504.21,226.01 505.82,225.95 507.43,225.88 509.03,225.81 510.64,225.75 512.25,225.68 513.86,225.62 515.46,225.55 517.07,225.48 518.68,225.42 520.29,225.35 521.89,225.29 523.5,225.22 523.5,237.37 521.89,237.44 520.29,237.5 518.68,237.57 517.07,237.64 515.46,237.7 513.86,237.77 512.25,237.84 510.64,237.9 509.03,237.97 507.43,238.03 505.82,238.1 504.21,238.17 502.6,238.23 501,238.3 499.39,238.36 497.78,238.43 496.17,238.5 494.57,238.56 492.96,238.63 491.35,238.69 489.74,238.91 488.13,239.13 486.53,239.35 484.92,239.57 483.31,239.79 481.71,240.01 480.1,240.46 478.49,240.9 476.88,241.34 475.28,241.78 473.99,242.13 473.67,242.17 472.06,242.35 470.45,242.54 468.85,242.73 467.24,242.92 465.63,243.11 464.99,243.19 464.02,243.41 462.42,243.79 460.81,244.17 459.39,244.51 459.2,244.54 457.59,244.8 455.99,245.06 454.38,245.32 452.77,245.58 451.16,245.85 449.56,246.11 447.95,246.37 446.34,246.63 444.73,246.89 443.12,247.15 441.52,247.42 439.91,247.68 438.3,248.08 436.7,248.49 435.09,248.89 433.48,249.3 431.87,249.71 430.49,250.05 430.27,250.13 428.66,250.64 427.05,251.15 425.44,251.65 423.84,252.16 422.23,252.67 420.62,253.18 420.49,253.22 419.01,254.07 417.41,254.99 415.8,255.91 414.19,256.83 412.58,257.75 410.98,258.67 410.33,259.04 409.37,259.68 407.76,260.74 406.15,261.81 404.55,262.87 402.94,263.94 401.33,265 400.37,265.64 399.72,266.08 398.12,267.19 396.51,268.29 394.9,269.4 393.29,270.5 391.69,271.61 390.08,272.71 389.98,272.78 388.47,273.8 386.86,274.88 385.25,275.97 383.65,277.05 383.33,277.27 382.04,277.93 380.43,278.77 378.83,279.6 377.22,280.44 375.61,281.14 374,281.85 372.4,282.56 371.21,283.08 370.79,283.23 369.18,283.83 367.57,283.91 366.19,283.98 365.97,284.03 364.36,284.35 362.75,284.67 362.11,284.8 361.14,285.59 359.54,286.91 359.08,287.28 357.93,287.37 356.32,287.35 355.1,287.33 354.71,287.24 353.11,286.83 351.5,286.42 350.08,286.06 349.89,285.99 348.28,285.99 346.68,285.99 345.07,285.99 343.46,285.99 341.85,285.99 340.25,285.99 338.64,285.99 337.03,285.99 335.42,285.99 333.81,285.99 332.21,285.99 330.6,285.99"/>
</g>
<g stroke="#bebebe" stroke-width="0.9"><line x1="330.6" y1="218.4" x2="330.6" y2="376.2"/><line x1="362.75" y1="218.4" x2="362.75" y2="376.2"/><line x1="394.9" y1="218.4" x2="394.9" y2="376.2"/><line x1="427.05" y1="218.4" x2="427.05" y2="376.2"/><line x1="459.2" y1="218.4" x2="459.2" y2="376.2"/><line x1="491.35" y1="218.4" x2="491.35" y2="376.2"/><line x1="523.5" y1="218.4" x2="523.5" y2="376.2"/><line x1="321" y1="373.7" x2="533" y2="373.7"/><line x1="321" y1="347.28" x2="533" y2="347.28"/><line x1="321" y1="320.86" x2="533" y2="320.86"/><line x1="321" y1="294.44" x2="533" y2="294.44"/><line x1="321" y1="268.02" x2="533" y2="268.02"/><line x1="321" y1="241.6" x2="533" y2="241.6"/></g>
<g clip-path="url(#cbr)">
<polyline fill="none" stroke="#1f77b4" stroke-width="1.1" stroke-opacity="0.74" stroke-linejoin="round" points="330.6,355.47 333.11,330.37 336.8,315.31 339.41,305.01 341.11,297.61 341.88,287.57 342.5,285.99 347.96,285.99 352.08,284.14 355.1,279.12 357.09,275.68 360.11,273.04 364.2,269.08 368.22,265.11 372.4,261.15 380.3,253.75 390.3,248.2 400.37,243.98 410.33,241.07 420.49,239.22 427.37,237.37 439.91,235.52 459.39,233.94 473.99,233.15 491.35,231.82 523.5,230.5"/>
<polyline fill="none" stroke="#ff7f0e" stroke-width="1.1" stroke-opacity="0.74" stroke-linejoin="round" points="330.6,353.88 332.59,330.37 333.59,305.01 334.3,285.99 352.59,285.99 353.59,282.55 355.1,280.7 356.58,280.17 359.08,279.12 362.11,277 366.19,274.1 371.21,271.98 377.22,269.61 383.33,266.96 390.3,261.94 400.37,255.07 410.33,250.05 420.49,246.36 430.49,244.24 442.71,240.54 459.39,237.11 464.99,236.84 477.53,234.2 491.35,233.67 523.5,232.35"/>
<polyline fill="none" stroke="#2ca02c" stroke-width="1.1" stroke-opacity="0.74" stroke-linejoin="round" points="330.6,340.41 333.11,325.09 335.62,310.29 338.09,294.97 339.41,286.25 345.07,285.46 350.08,284.14 355.1,280.17 358.09,276.21 361.11,273.04 365.19,269.87 369.18,265.91 380.3,256.4 390.3,251.11 400.37,246.09 410.33,241.86 420.49,238.96 427.37,237.37 439.91,235 459.39,233.94 473.99,232.62 491.35,230.5 523.5,229.98"/>
<polyline fill="none" stroke="#d62728" stroke-width="1.1" stroke-opacity="0.74" stroke-linejoin="round" points="330.6,347.81 331.89,336.71 333.17,324.82 334.3,312.67 335.62,291.27 336.07,284.4 336.52,283.08 337.61,284.93 338.96,285.46 341.85,285.19 345.1,283.08 349.09,281.23 353.11,278.06 356.09,274.62 360.11,271.98 365.19,269.08 370.21,265.11 380.3,255.87 390.3,250.05 400.37,245.03 410.33,241.07 420.49,238.17 427.37,235.79 439.91,233.94 459.39,231.3 473.99,230.24 491.35,229.71 523.5,228.13"/>
<polyline fill="none" stroke="#9467bd" stroke-width="1.1" stroke-opacity="0.74" stroke-linejoin="round" points="330.6,285.99 350.08,285.99 355.1,285.19 359.08,283.61 362.11,280.17 366.19,278.06 371.21,276.21 377.22,273.57 383.33,270.4 389.98,265.91 400.37,258.77 410.33,252.17 420.49,246.36 430.49,243.19 439.91,240.81 459.39,237.64 464.99,236.32 473.99,235.26 481.71,233.15 491.35,231.82 523.5,230.5"/>
</g>
<rect x="321" y="218.4" width="212" height="157.8" fill="none" stroke="#262626" stroke-width="0.95"/>
<g stroke="#262626" stroke-width="0.8"><line x1="330.6" y1="376.2" x2="330.6" y2="377.9"/><line x1="362.75" y1="376.2" x2="362.75" y2="377.9"/><line x1="394.9" y1="376.2" x2="394.9" y2="377.9"/><line x1="427.05" y1="376.2" x2="427.05" y2="377.9"/><line x1="459.2" y1="376.2" x2="459.2" y2="377.9"/><line x1="491.35" y1="376.2" x2="491.35" y2="377.9"/><line x1="523.5" y1="376.2" x2="523.5" y2="377.9"/><line x1="319.3" y1="373.7" x2="321" y2="373.7"/><line x1="319.3" y1="347.28" x2="321" y2="347.28"/><line x1="319.3" y1="320.86" x2="321" y2="320.86"/><line x1="319.3" y1="294.44" x2="321" y2="294.44"/><line x1="319.3" y1="268.02" x2="321" y2="268.02"/><line x1="319.3" y1="241.6" x2="321" y2="241.6"/></g>
<g font-size="4.75" fill="#000" stroke="#000" stroke-width="0.13"><text x="330.6" y="384.1" text-anchor="middle">0</text><text x="362.75" y="384.1" text-anchor="middle">100</text><text x="394.9" y="384.1" text-anchor="middle">200</text><text x="427.05" y="384.1" text-anchor="middle">300</text><text x="459.2" y="384.1" text-anchor="middle">400</text><text x="491.35" y="384.1" text-anchor="middle">500</text><text x="523.5" y="384.1" text-anchor="middle">600</text><text x="317.4" y="376.05" text-anchor="end">30</text><text x="317.4" y="349.63" text-anchor="end">40</text><text x="317.4" y="323.21" text-anchor="end">50</text><text x="317.4" y="296.79" text-anchor="end">60</text><text x="317.4" y="270.37" text-anchor="end">70</text><text x="317.4" y="243.95" text-anchor="end">80</text><text x="427" y="391.3" text-anchor="middle">Epoch</text><text transform="translate(306.7,297.3) rotate(-90)" text-anchor="middle">Train Accuracy</text></g>
<text x="426.3" y="214.4" text-anchor="middle" font-size="5.68" stroke="#000" stroke-width="0.13">Train Accuracies using Different Initialization Methods on Vertebral_column Dataset</text>
<rect x="460.3" y="336.6" width="69.9" height="36.1" rx="1.2" fill="#fff" fill-opacity="0.95" stroke="#d6d6d6" stroke-width="0.6"/>
<g font-size="4.75" stroke-width="0.13"><line x1="461.9" y1="341" x2="472.6" y2="341" stroke="#1f77b4" stroke-width="1.05" stroke-opacity="1"/><text x="476.3" y="342.75" stroke="#000">Random Initialization</text><line x1="461.9" y1="348" x2="472.6" y2="348" stroke="#ff7f0e" stroke-width="1.05" stroke-opacity="1"/><text x="476.3" y="349.75" stroke="#000">Normal Initialization</text><line x1="461.9" y1="355.1" x2="472.6" y2="355.1" stroke="#2ca02c" stroke-width="1.05" stroke-opacity="1"/><text x="476.3" y="356.85" stroke="#000">He Initialization</text><line x1="461.9" y1="362.1" x2="472.6" y2="362.1" stroke="#d62728" stroke-width="1.05" stroke-opacity="1"/><text x="476.3" y="363.85" stroke="#000">Xavier Initialization</text><line x1="461.9" y1="369.2" x2="472.6" y2="369.2" stroke="#9467bd" stroke-width="1.05" stroke-opacity="1"/><text x="476.3" y="370.95" stroke="#000">Proposed Initialization</text></g>
</svg>
</body></html>
